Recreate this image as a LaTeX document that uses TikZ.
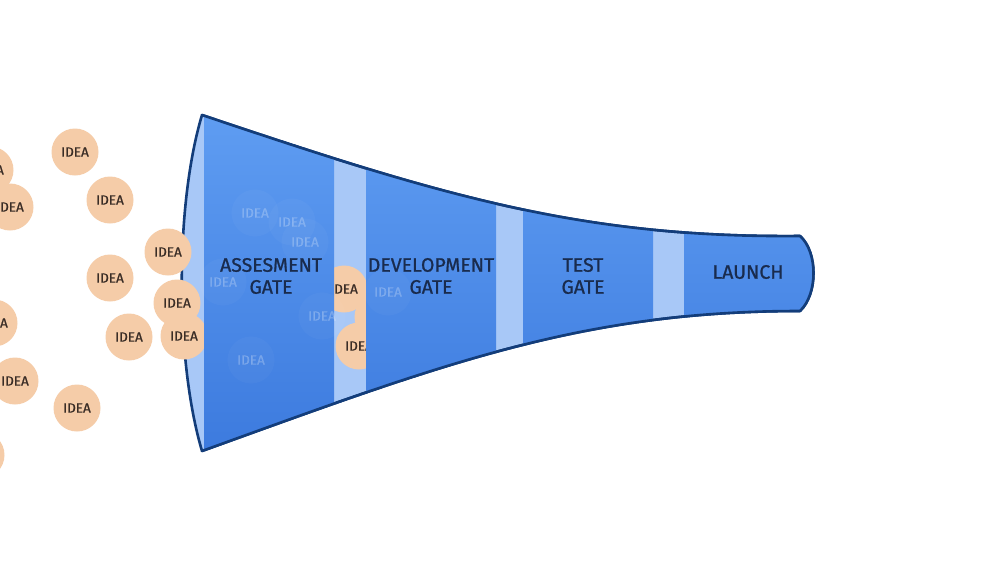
\documentclass[tikz,border=0pt]{standalone}
\usepackage{fontspec}
\setmainfont{Fira Sans}
\newfontfamily\medfont{Fira Sans}[FakeBold=0.9]
\definecolor{lightstrip}{HTML}{A8C8F7}
\definecolor{darktop}{HTML}{5F9DF2}
\definecolor{darkbot}{HTML}{3C7ADE}
\definecolor{outline}{HTML}{133D7A}
\definecolor{peach}{HTML}{F5CCA8}
\definecolor{ideatext}{HTML}{3A2D26}
\definecolor{gatetext}{HTML}{192B4D}
\begin{document}
\begin{tikzpicture}[x=1pt,y=-1pt,
  idea/.style={circle, fill=peach, minimum size=47pt, inner sep=0pt, text=ideatext, font=\medfont\fontsize{13.5}{13.5}\selectfont},
  ghost/.style={circle, fill=white, fill opacity=0.03, text opacity=0.22, text=white, minimum size=47pt, inner sep=0pt, font=\medfont\fontsize{13.5}{13.5}\selectfont},
  gatelabel/.style={align=center, text=gatetext, font=\medfont\fontsize{19.5}{22}\selectfont},
  rim/.style={draw=outline, line width=2.6pt, line join=round}]
\useasboundingbox (0,0) rectangle (1000,563);
\clip (0,0) rectangle (1000,563);
\fill[white] (0,0) rectangle (1000,563);
% light funnel body
\begin{scope}
  \clip (202,115) .. controls (440,195) and (580,238) .. (800,236) .. controls (818,252) and (818,294) .. (800,311) .. controls (580,311) and (440,365) .. (202,451) .. controls (175,360) and (175,205) .. (202,115) -- cycle;
  \fill[lightstrip] (150,90) rectangle (850,480);
\end{scope}
\path[rim] (202,115) .. controls (440,195) and (580,238) .. (800,236) .. controls (818,252) and (818,294) .. (800,311) .. controls (580,311) and (440,365) .. (202,451) .. controls (175,360) and (175,205) .. (202,115) -- cycle;
% idea circles
\node[idea] (c1) at (75,152) {IDEA};
\node[idea] (c2) at (110,200) {IDEA};
\node[idea] (c3) at (-10,170) {IDEA};
\node[idea] (c4) at (10,207) {IDEA};
\node[idea] (c6) at (110,278) {IDEA};
\node[idea] (c8) at (129,337) {IDEA};
\node[idea] (c10) at (-6,323) {IDEA};
\node[idea] (c11) at (15,381) {IDEA};
\node[idea] (c12) at (77,408) {IDEA};
\node[idea] (c13) at (-19,455) {IDEA};
\node[idea] (c5) at (168,252) {IDEA};
\node[idea] (c7) at (177,303) {IDEA};
\node[idea] (c9) at (184,336) {IDEA};
\node[idea] (c16) at (378,317) {};
\node[idea] (c14) at (344,289) {IDEA};
\node[idea] (c15) at (359,346) {IDEA};
% dark gate sections
\begin{scope}
  \clip (202,115) .. controls (440,195) and (580,238) .. (800,236) .. controls (818,252) and (818,294) .. (800,311) .. controls (580,311) and (440,365) .. (202,451) .. controls (175,360) and (175,205) .. (202,115) -- cycle;
  \shade[top color=darktop, bottom color=darkbot] (204,110) rectangle (334,456);
  \shade[top color=darktop, bottom color=darkbot] (366,110) rectangle (496,456);
  \shade[top color=darktop, bottom color=darkbot] (523,110) rectangle (653,456);
  \shade[top color=darktop, bottom color=darkbot] (684,110) rectangle (830,456);
  % faint ghost ideas
  \node[ghost] (g1) at (255,213) {IDEA};
  \node[ghost] (g2) at (292,222) {IDEA};
  \node[ghost] (g3) at (305,242) {IDEA};
  \node[ghost] (g4) at (223,282) {IDEA};
  \node[ghost] (g5) at (322,316) {IDEA};
  \node[ghost] (g6) at (251,360) {IDEA};
  \node[ghost] (g7) at (388,292) {IDEA};
\end{scope}
% outline over the sections
\path[rim, line cap=round] (202,115) .. controls (440,195) and (580,238) .. (800,236) .. controls (818,252) and (818,294) .. (800,311) .. controls (580,311) and (440,365) .. (202,451);
% labels
\node[gatelabel] (l1) at (271,276) {ASSESMENT\\GATE};
\node[gatelabel] (l2) at (431,276) {DEVELOPMENT\\GATE};
\node[gatelabel] (l3) at (583,276) {TEST\\GATE};
\node[gatelabel] (l4) at (748,272) {LAUNCH};
\end{tikzpicture}
\end{document}
